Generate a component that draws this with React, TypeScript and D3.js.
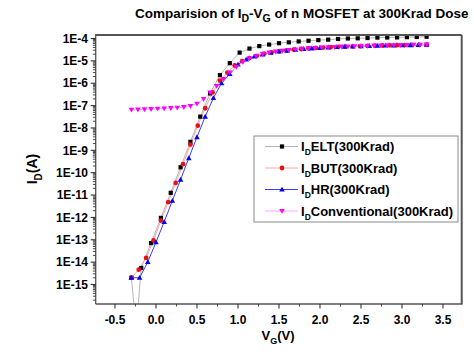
import React from "react";
import * as d3 from "d3";

// ---------- data ----------
const eltV = [-0.3, -0.24, -0.18, -0.06, 0.06, 0.18, 0.3, 0.42, 0.54, 0.66, 0.78, 0.9, 1.02, 1.14, 1.26, 1.38, 1.5, 1.62, 1.74, 1.86, 1.98, 2.1, 2.22, 2.34, 2.46, 2.58, 2.7, 2.82, 2.94, 3.06, 3.18, 3.3];
const eltI = [2.0e-15, 1e-17, 5.5e-15, 7.1e-14, 9.5e-13, 1.26e-11, 1.74e-10, 2.4e-9, 3.2e-8, 3.5e-7, 2.3e-6, 7.9e-6, 2.34e-5, 3.55e-5, 4.57e-5, 5.37e-5, 6.17e-5, 6.76e-5, 7.41e-5, 7.94e-5, 8.51e-5, 8.91e-5, 9.55e-5, 1.0e-4, 1.02e-4, 1.05e-4, 1.1e-4, 1.11e-4, 1.12e-4, 1.15e-4, 1.17e-4, 1.2e-4];

const butV = [-0.3, -0.21, -0.12, -0.03, 0.06, 0.15, 0.24, 0.33, 0.42, 0.51, 0.6, 0.69, 0.78, 0.87, 0.96, 1.05, 1.14, 1.23, 1.32, 1.41, 1.5, 1.59, 1.68, 1.77, 1.86, 1.95, 2.04, 2.13, 2.22, 2.31, 2.4, 2.49, 2.58, 2.67, 2.76, 2.85, 2.94, 3.03, 3.12, 3.21, 3.3];
const butI = [2.0e-15, 4.6e-15, 1.55e-14, 9.3e-14, 7.2e-13, 4.8e-12, 3.5e-11, 2.4e-10, 1.8e-9, 1.26e-8, 7.6e-8, 3.9e-7, 1.32e-6, 3.0e-6, 6.2e-6, 9.7e-6, 1.34e-5, 1.68e-5, 2.09e-5, 2.4e-5, 2.68e-5, 2.94e-5, 3.19e-5, 3.39e-5, 3.61e-5, 3.8e-5, 3.92e-5, 4.08e-5, 4.21e-5, 4.35e-5, 4.48e-5, 4.57e-5, 4.67e-5, 4.77e-5, 4.87e-5, 4.94e-5, 5.02e-5, 5.07e-5, 5.15e-5, 5.23e-5, 5.28e-5];

const hrV = [-0.3, -0.2, -0.1, 0.0, 0.1, 0.2, 0.3, 0.4, 0.5, 0.6, 0.7, 0.8, 0.9, 1.0, 1.1, 1.2, 1.3, 1.4, 1.5, 1.6, 1.7, 1.8, 1.9, 2.0, 2.1, 2.2, 2.3, 2.4, 2.5, 2.6, 2.7, 2.8, 2.9, 3.0, 3.1, 3.2, 3.3];
const hrI = [2.0e-15, 2.0e-15, 1.02e-14, 7.8e-14, 6.3e-13, 5.6e-12, 4.9e-11, 4.5e-10, 3.9e-9, 3.2e-8, 2.2e-7, 1.0e-6, 2.6e-6, 6.9e-6, 1.15e-5, 1.57e-5, 1.96e-5, 2.32e-5, 2.62e-5, 2.9e-5, 3.19e-5, 3.43e-5, 3.65e-5, 3.84e-5, 4.0e-5, 4.17e-5, 4.3e-5, 4.43e-5, 4.57e-5, 4.67e-5, 4.77e-5, 4.87e-5, 4.94e-5, 5.02e-5, 5.1e-5, 5.17e-5, 5.25e-5];

const convV = [-0.3, -0.22, -0.14, -0.06, 0.02, 0.1, 0.18, 0.26, 0.34, 0.42, 0.5, 0.58, 0.66, 0.74, 0.82, 0.9, 0.98, 1.06, 1.14, 1.22, 1.3, 1.38, 1.46, 1.54, 1.62, 1.7, 1.78, 1.86, 1.94, 2.02, 2.1, 2.18, 2.26, 2.34, 2.42, 2.5, 2.58, 2.66, 2.74, 2.82, 2.9, 2.98, 3.06, 3.14, 3.22, 3.3];
const convI = [6.5e-8, 6.6e-8, 6.75e-8, 6.97e-8, 7.2e-8, 7.4e-8, 7.7e-8, 8.0e-8, 8.55e-8, 9.5e-8, 1.21e-7, 1.97e-7, 3.85e-7, 7.5e-7, 1.55e-6, 3.0e-6, 5.3e-6, 8.9e-6, 1.28e-5, 1.65e-5, 2.0e-5, 2.32e-5, 2.57e-5, 2.79e-5, 3.03e-5, 3.22e-5, 3.43e-5, 3.61e-5, 3.76e-5, 3.92e-5, 4.04e-5, 4.17e-5, 4.3e-5, 4.39e-5, 4.48e-5, 4.57e-5, 4.67e-5, 4.77e-5, 4.84e-5, 4.91e-5, 4.99e-5, 5.07e-5, 5.12e-5, 5.2e-5, 5.25e-5, 5.33e-5];

const xMajorTicks = [-0.5, 0.0, 0.5, 1.0, 1.5, 2.0, 2.5, 3.0, 3.5];
const yMajorExps = [-4, -5, -6, -7, -8, -9, -10, -11, -12, -13, -14, -15];
const legendNames = ["ELT(300Krad)", "BUT(300Krad)", "HR(300Krad)", "Conventional(300Krad)"];

// ---------- layout ----------
const W = 474, H = 358;
const L = 95.7, R = 461.7, T = 35, B = 304;
const FONT = "'Liberation Sans', Arial, Helvetica, sans-serif";

const x = d3.scaleLinear().domain([-0.735, 3.728]).range([L, R]);
const y = d3.scaleLog().domain([Math.pow(10, -15.872), Math.pow(10, -3.843)]).range([B, T]);

type Series = { name: string; v: number[]; i: number[]; line: string; mark: string; shape: string };
const series: Series[] = [
  { name: legendNames[0], v: eltV, i: eltI, line: "#b4b4b4", mark: "#000000", shape: "square" },
  { name: legendNames[1], v: butV, i: butI, line: "#ffa8a8", mark: "#e6101a", shape: "circle" },
  { name: legendNames[2], v: hrV, i: hrI, line: "#3a3aff", mark: "#0000ee", shape: "up" },
  { name: legendNames[3], v: convV, i: convI, line: "#ffa8ff", mark: "#ff00ff", shape: "down" },
];

function Marker({ shape, cx, cy, color }: { shape: string; cx: number; cy: number; color: string }) {
  if (shape === "square") return <rect x={cx - 2.1} y={cy - 2.1} width={4.2} height={4.2} fill={color} />;
  if (shape === "circle") return <circle cx={cx} cy={cy} r={2.4} fill={color} />;
  const s = 2.8;
  if (shape === "up")
    return <path d={`M${cx},${cy - s}L${cx + s},${cy + s * 0.75}L${cx - s},${cy + s * 0.75}Z`} fill={color} />;
  return <path d={`M${cx},${cy + s}L${cx + s},${cy - s * 0.75}L${cx - s},${cy - s * 0.75}Z`} fill={color} />;
}

function fmtX(v: number) {
  return v.toFixed(1);
}

export default function App() {
  const line = d3
    .line<[number, number]>()
    .x((d) => x(d[0]))
    .y((d) => y(d[1]));

  const yMinor: number[] = [];
  for (let e = -16; e <= -4; e++) {
    for (let k = 2; k <= 9; k++) {
      const val = k * Math.pow(10, e);
      if (val >= y.domain()[0] && val <= y.domain()[1]) yMinor.push(val);
    }
  }
  const xMinor = xMajorTicks.map((t) => t + 0.25).filter((t) => t <= x.domain()[1]);

  const frame = "#555555";
  const legendX0 = 254, legendY0 = 136, legendX1 = 458, legendY1 = 222;

  return (
    <svg width={W} height={H} style={{ position: "absolute", left: 0, top: 0, background: "#fff" }} fontFamily={FONT}>
      <rect x={0} y={0} width={W} height={H} fill="#fff" />
      <defs>
        <clipPath id="plotclip">
          <rect x={L} y={T} width={R - L} height={B - T} />
        </clipPath>
      </defs>

      {/* title */}
      <text transform="translate(135,18) scale(1.055,1)" fontSize={12.8} fontWeight="bold" fill="#000">
        <tspan>Comparision of I</tspan>
        <tspan dy={4} fontSize={10}>D</tspan>
        <tspan dy={-4}>-V</tspan>
        <tspan dy={4} fontSize={10}>G</tspan>
        <tspan dy={-4}> of n MOSFET at 300Krad Dose</tspan>
      </text>

      {/* data */}
      <g clipPath="url(#plotclip)">
        {series.map((s) => (
          <path
            key={s.name + "l"}
            d={line(s.v.map((v, k) => [v, s.i[k]] as [number, number])) || ""}
            fill="none"
            stroke={s.line}
            strokeWidth={1}
          />
        ))}
        {series.map((s) => (
          <g key={s.name + "m"}>
            {s.v.map((v, k) => (
              <Marker key={k} shape={s.shape} cx={x(v)} cy={y(s.i[k])} color={s.mark} />
            ))}
          </g>
        ))}
      </g>

      {/* frame */}
      <line x1={L} y1={T} x2={R} y2={T} stroke={frame} strokeWidth={2} />
      <line x1={R} y1={T} x2={R} y2={B} stroke={frame} strokeWidth={2} />
      <line x1={L} y1={T - 1} x2={L} y2={B} stroke={frame} strokeWidth={1.3} />
      <line x1={L} y1={B} x2={R + 1} y2={B} stroke={frame} strokeWidth={1.3} />

      {/* y ticks */}
      {yMajorExps.map((e) => {
        const yy = y(Math.pow(10, e));
        return (
          <g key={"ym" + e}>
            <line x1={L - 5} x2={L} y1={yy} y2={yy} stroke="#333" strokeWidth={1.1} />
            <text x={88} y={yy + 4.2} textAnchor="end" fontSize={12} fontWeight="bold" fill="#000">
              {`1E${e}`}
            </text>
          </g>
        );
      })}
      {yMinor.map((val, k) => (
        <line key={"yn" + k} x1={L - 2.8} x2={L} y1={y(val)} y2={y(val)} stroke="#333" strokeWidth={0.9} />
      ))}

      {/* x ticks */}
      {xMajorTicks.map((t) => (
        <g key={"xm" + t}>
          <line x1={x(t)} x2={x(t)} y1={B} y2={B + 4.5} stroke="#333" strokeWidth={1.1} />
          <text x={x(t)} y={324} textAnchor="middle" fontSize={12} fontWeight="bold" fill="#000">
            {fmtX(t)}
          </text>
        </g>
      ))}
      {xMinor.map((t) => (
        <line key={"xn" + t} x1={x(t)} x2={x(t)} y1={B} y2={B + 2.5} stroke="#333" strokeWidth={0.9} />
      ))}

      {/* axis titles */}
      <text x={278} y={340} textAnchor="middle" fontSize={13} fontWeight="bold" fill="#000">
        <tspan>V</tspan>
        <tspan dy={4} fontSize={9}>G</tspan>
        <tspan dy={-4}>(V)</tspan>
      </text>
      <text transform={`translate(37,169) rotate(-90)`} textAnchor="middle" fontSize={14} fontWeight="bold" fill="#000">
        <tspan>I</tspan>
        <tspan dy={4.5} fontSize={10}>D</tspan>
        <tspan dy={-4.5}>(A)</tspan>
      </text>

      {/* legend */}
      <rect x={legendX0} y={legendY0} width={legendX1 - legendX0} height={legendY1 - legendY0} fill="#fff" stroke="#8a8a8a" strokeWidth={1} />
      {series.map((s, k) => {
        const yy = 146.5 + k * 21.5;
        return (
          <g key={"lg" + k}>
            <line x1={265} x2={298} y1={yy} y2={yy} stroke={s.line} strokeWidth={1} />
            <Marker shape={s.shape} cx={282} cy={yy} color={s.mark} />
            <text x={301} y={yy + 4.5} fontSize={13} fontWeight="bold" fill="#000">
              <tspan>I</tspan>
              <tspan dy={4} fontSize={8.5}>D</tspan>
              <tspan dy={-4}>{s.name}</tspan>
            </text>
          </g>
        );
      })}
    </svg>
  );
}
